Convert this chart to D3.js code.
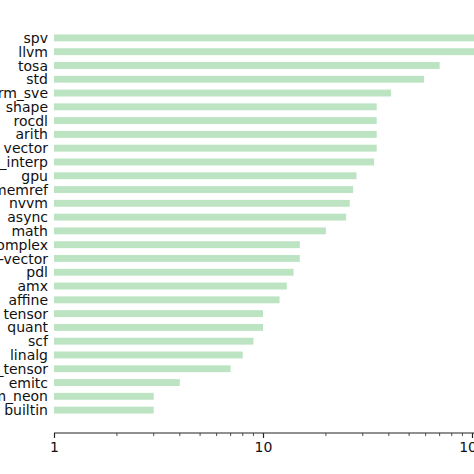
<!DOCTYPE html>
<html>
<head>
<meta charset="utf-8">
<script src="https://cdn.jsdelivr.net/npm/d3@7"></script>
<style>
  body { margin: 0; background: #fff; }
  text { font-family: "DejaVu Sans", sans-serif; }
</style>
</head>
<body>
<div id="chart"></div>
<script>
// dialect names, top to bottom
const dialects = ['spv', 'llvm', 'tosa', 'std', 'arm_sve', 'shape', 'rocdl', 'arith',
    'vector', 'pdl_interp', 'gpu', 'memref', 'nvvm', 'async', 'math', 'complex',
    'x86-vector', 'pdl', 'amx', 'affine', 'tensor', 'quant', 'scf', 'linalg',
    'sparse_tensor', 'emitc', 'arm_neon', 'builtin'];
// counts
const counts = [110, 105, 70, 59, 41, 35, 35, 35,
    35, 34, 28, 27, 26, 25, 20, 15,
    15, 14, 13, 12, 10, 10, 9, 8,
    7, 4, 3, 3];
const tickValues = [1, 10, 100];

function drawChart() {
    const width = 474, height = 474;
    const left = 54, right = 472, top = 31, bottom = 417, axisY = 433;

    const svg = d3.select('#chart')
        .append('svg')
        .attr('width', width)
        .attr('height', height);

    const x = d3.scaleLog()
        .domain([1, 100])
        .range([left, right]);

    const y = d3.scaleBand()
        .domain(dialects)
        .range([top, bottom])
        .paddingInner(0.5)
        .paddingOuter(0.25);

    // bars
    svg.selectAll('.bar')
        .data(dialects)
        .enter()
        .append('rect')
        .attr('class', 'bar')
        .attr('x', x(1))
        .attr('y', d => y(d))
        .attr('width', (d, i) => x(counts[i]) - x(1))
        .attr('height', y.bandwidth())
        .attr('fill', '#bce4c3');

    // category labels
    svg.selectAll('.label')
        .data(dialects)
        .enter()
        .append('text')
        .attr('class', 'label')
        .attr('x', left - 6)
        .attr('y', d => y(d) + y.bandwidth() / 2)
        .attr('dy', '0.36em')
        .attr('text-anchor', 'end')
        .attr('font-size', 14)
        .attr('fill', '#111')
        .text(d => d);

    // minor ticks
    const minor = [];
    for (let dec = 1; dec < 100; dec *= 10) {
        for (let k = 2; k <= 9; k++) minor.push(dec * k);
    }
    const axisG = svg.append('g').attr('transform', `translate(0,${axisY})`);
    axisG.selectAll('.minor')
        .data(minor)
        .enter()
        .append('line')
        .attr('x1', d => x(d))
        .attr('x2', d => x(d))
        .attr('y1', 0)
        .attr('y2', 3)
        .attr('stroke', '#222')
        .attr('stroke-width', 0.8);

    // main axis
    const axis = d3.axisBottom(x)
        .tickValues(tickValues)
        .tickFormat(d3.format('d'))
        .tickSize(5)
        .tickPadding(4);
    axisG.call(axis);
    axisG.select('.domain')
        .attr('d', `M${left},0H${right + 10}`)
        .attr('stroke', '#222')
        .attr('stroke-width', 1.2);
    axisG.selectAll('.tick line').attr('stroke', '#222').attr('stroke-width', 1.2);
    axisG.selectAll('.tick text')
        .attr('font-size', 14)
        .attr('font-family', '"DejaVu Sans", sans-serif')
        .attr('fill', '#111');
}

document.addEventListener('DOMContentLoaded', drawChart);
</script>
</body>
</html>
